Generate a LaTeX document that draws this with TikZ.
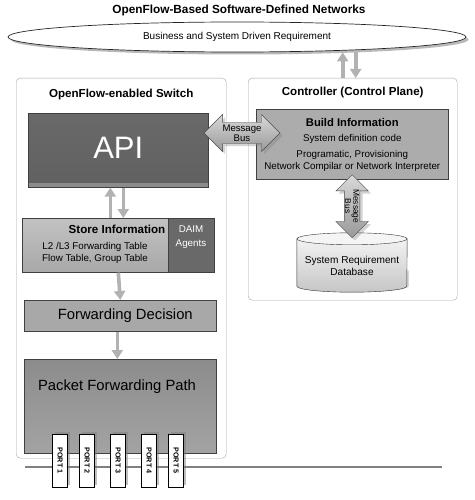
\documentclass[tikz,border=0pt]{standalone}
\usepackage{fontspec}
\setmainfont{Liberation Sans}
\usetikzlibrary{positioning,shapes.geometric,shapes.arrows,shadows,arrows.meta,calc}

\definecolor{apigray}{RGB}{88,88,88}
\definecolor{apistrip}{RGB}{140,140,140}
\definecolor{storegray}{RGB}{168,168,168}
\definecolor{daimgray}{RGB}{105,105,105}
\definecolor{pathgray}{RGB}{140,140,140}
\definecolor{flowgray}{RGB}{178,178,178}

\tikzset{
  panel/.style={draw=gray!70, rounded corners=4pt, fill=white, inner sep=0pt},
  block/.style={draw=black!75, line width=0.6pt, inner sep=0pt, anchor=north west},
  head/.style={font=\fontsize{11.6}{13}\selectfont\bfseries},
  small/.style={font=\fontsize{9.8}{11}\selectfont},
  flow/.style={draw=flowgray, line width=3.6pt, -{Triangle[width=11pt,length=9pt]}},
  bus/.style={double arrow, draw=black!70, double arrow head extend=8pt,
    top color=gray!30, bottom color=gray!80, align=center,
    font=\fontsize{9.6}{10}\selectfont, drop shadow={opacity=.35}},
  port/.style={draw=black, fill=white, minimum width=53pt, minimum height=15pt,
    inner sep=0pt, rotate=-90, font=\fontsize{7.2}{8}\selectfont\bfseries,
    drop shadow={shadow xshift=2pt, shadow yshift=2pt, opacity=.5}}
}

\begin{document}
\begin{tikzpicture}[x=1pt,y=-1pt]
\useasboundingbox (0,0) rectangle (474,500);

\node[font=\fontsize{11.8}{13}\selectfont\bfseries] (title) at (239,10) {OpenFlow-Based Software-Defined Networks};
\node[ellipse, draw=black!85, line width=0.7pt, fill=white, minimum width=458pt, minimum height=30pt,
  drop shadow={opacity=.55, shadow yshift=-2.5pt}, font=\fontsize{10}{12}\selectfont] (req) at (237,37) {Business and System Driven Requirement};

% the two panels
\node[panel, minimum width=210pt, minimum height=380pt, anchor=north west] (switch) at (16,78) {};
\node[panel, minimum width=209pt, minimum height=222pt, anchor=north west] (ctrl) at (248,78) {};
\node[head] (swtitle) [below=8pt of switch.north] {OpenFlow-enabled Switch};
\node[head] (ctitle) [below=6pt of ctrl.north] {Controller (Control Plane)};

% switch side
\node[block, minimum width=180pt, minimum height=74pt, top color=apigray!90, bottom color=apigray!110!black] (api) at (28,113) {};
\fill[apistrip] ([yshift=5pt]api.south west) rectangle (api.south east);
\draw[black!75, line width=0.6pt] (api.north west) rectangle (api.south east);
\node[text=white, font=\fontsize{31}{33}\selectfont] (apitext) at ([yshift=2pt]api.center) {API};

\node[block, minimum width=192pt, minimum height=54pt, top color=storegray!70, bottom color=storegray] (store) at (22,218) {};
\node[block, anchor=north east, minimum width=46pt, minimum height=54pt, fill=daimgray] (daim) at (store.north east) {};
\node[head] (stitle) at (117,229) {Store Information};
\node[small, align=center] (stext) at (95,253) {L2 /L3 Forwarding Table\\[1pt]Flow Table, Group Table};
\node[small, text=white, align=center] (dtext) at (191,237) {DAIM\\[3pt]Agents};

\node[block, minimum width=192pt, minimum height=31pt, fill=storegray] (fwd) at (24,300) {};
\node[font=\fontsize{14.8}{16}\selectfont] (fwdtext) at ([xshift=5pt]fwd.center) {Forwarding Decision};

\node[block, minimum width=192pt, minimum height=94pt, top color=pathgray, bottom color=pathgray!80] (path) at (24,359) {};
\node[font=\fontsize{14.8}{16}\selectfont] (pathtext) at (117,387) {Packet Forwarding Path};

\draw[flow] ([xshift=-8pt]store.north) -- ([xshift=-8pt]store.north |- api.south);
\draw[flow] ([xshift=5pt]api.south) -- ([xshift=5pt]api.south |- store.north);
\draw[flow] (store.south) -- (fwd.north);
\draw[flow] ([xshift=-3pt]fwd.south) -- ([xshift=-3pt]path.north);

% ports on the line
\coordinate (lineL) at (25,467);
\coordinate (lineR) at (442,467);
\draw[gray, line width=1.6pt] (lineL) -- (lineR);
\foreach \n/\x in {1/60,2/87,3/118,4/149,5/176}
  \node[port] (port\n) at (\x,460.5) {PORT \n};

% controller side
\node[block, minimum width=192pt, minimum height=70pt, fill=storegray!95] (build) at (256,109) {};
\node[align=center, font=\fontsize{9.8}{15}\selectfont] (btext) at ([yshift=-1pt]build.center)
  {{\fontsize{11.2}{12}\selectfont\bfseries Build Information}\\System definition code\\[1pt]Programatic, Provisioning\\[-3pt]Network Compilar or Network Interpreter};

\node[minimum width=110pt, minimum height=59pt] (db) at (352,262.5) {};
\fill[black!30, opacity=.5] ([xshift=2pt,yshift=-8pt]db.west) -- ([xshift=2pt,yshift=6pt]db.south west)
  arc[start angle=180, end angle=360, x radius=55pt, y radius=6pt] -- ([xshift=2pt,yshift=-8pt]db.east) -- cycle;
\path[top color=gray!10, bottom color=gray!45, draw=black!80] ([yshift=-6pt]db.north west) -- ([yshift=6pt]db.south west)
  arc[start angle=180, end angle=360, x radius=55pt, y radius=6pt] -- ([yshift=-6pt]db.north east) -- cycle;
\draw[black!80, fill=gray!8] ([yshift=-6pt]db.north) ellipse [x radius=55pt, y radius=6pt];
\node[align=center, font=\fontsize{10.1}{12}\selectfont] (dbtext) at ([yshift=-3pt]db.center) {System Requirement\\Database};

% message buses
\node[bus, minimum height=76pt, inner xsep=1pt, inner ysep=2pt] (hbus) at (242,133) {Message\\Bus};
\node[bus, rotate=-90, minimum height=63pt, inner sep=0.5pt, double arrow head extend=8.5pt,
  font=\fontsize{8.4}{8.2}\selectfont] (vbus)
  at ($(build.south)!0.5!(db.north)$) {Message\\Bus};

\draw[flow] ([xshift=-10pt]ctrl.north) -- ([xshift=-10pt]ctrl.north |- req.south);
\draw[flow] ([xshift=3pt]ctrl.north |- req.south) -- ([xshift=3pt]ctrl.north);
\end{tikzpicture}
\end{document}
